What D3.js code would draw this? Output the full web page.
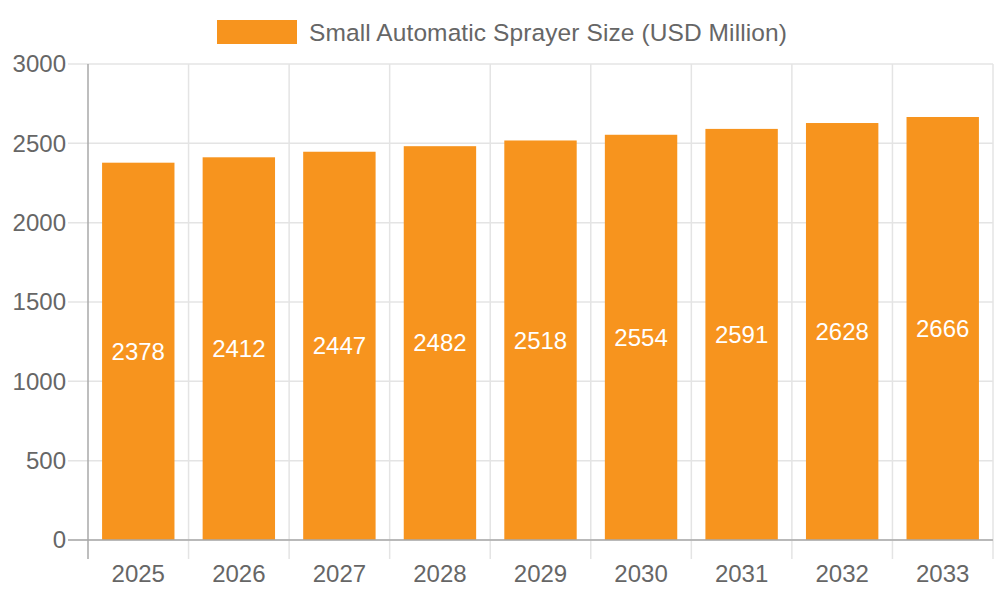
<!DOCTYPE html>
<html>
<head>
<meta charset="utf-8">
<script src="https://cdn.jsdelivr.net/npm/d3@7"></script>
<style>
  body { margin: 0; background: #fff; }
  text { font-family: "Liberation Sans", Arial, sans-serif; }
</style>
</head>
<body>
<div id="chart"></div>
<script>
// chart data
const years = ["2025", "2026", "2027", "2028", "2029", "2030", "2031", "2032", "2033"];
const sizes = [2378, 2412, 2447, 2482, 2518, 2554, 2591, 2628, 2666];
const yTicks = [0, 500, 1000, 1500, 2000, 2500, 3000];
const seriesName = "Small Automatic Sprayer Size (USD Million)";

const width = 1000, height = 600;
const margin = {top: 64, right: 7, bottom: 60, left: 88};
const fontSize = "24px";

let svg = d3.select("#chart")
    .append("svg")
    .attr("width", width)
    .attr("height", height);

let x = d3.scaleBand()
    .domain(years)
    .range([margin.left, width - margin.right])
    .paddingInner(0)
    .paddingOuter(0);

let y = d3.scaleLinear()
    .domain([0, 3000])
    .range([height - margin.bottom, margin.top]);

const gridColor = "#e4e4e4";
const axisColor = "#a9a9a9";

// horizontal grid + y tick marks
svg.append("g")
    .selectAll("line")
    .data(yTicks)
    .enter()
    .append("line")
    .attr("x1", margin.left - 20)
    .attr("x2", width - margin.right)
    .attr("y1", d => y(d))
    .attr("y2", d => y(d))
    .attr("stroke", gridColor)
    .attr("stroke-width", 1.5);

// vertical grid at category boundaries (extends down as tick marks)
let bounds = years.map(d => x(d)).concat([x(years[years.length - 1]) + x.bandwidth()]);
svg.append("g")
    .selectAll("line")
    .data(bounds.slice(1))
    .enter()
    .append("line")
    .attr("x1", d => d)
    .attr("x2", d => d)
    .attr("y1", margin.top)
    .attr("y2", height - margin.bottom + 19)
    .attr("stroke", gridColor)
    .attr("stroke-width", 1.5);

// bars
let barW = x.bandwidth() * 0.72;
svg.append("g")
    .selectAll("rect")
    .data(sizes)
    .enter()
    .append("rect")
    .attr("x", (d, i) => x(years[i]) + (x.bandwidth() - barW) / 2)
    .attr("y", d => y(d))
    .attr("width", barW)
    .attr("height", d => y(0) - y(d))
    .attr("fill", "#f7941e");

// value labels in the middle of each bar
svg.append("g")
    .selectAll("text")
    .data(sizes)
    .enter()
    .append("text")
    .attr("x", (d, i) => x(years[i]) + x.bandwidth() / 2)
    .attr("y", d => (y(d) + y(0)) / 2)
    .attr("dy", "0.35em")
    .style("text-anchor", "middle")
    .style("font-size", fontSize)
    .attr("fill", "#ffffff")
    .text(d => d);

// axes lines
svg.append("line")
    .attr("x1", margin.left).attr("x2", margin.left)
    .attr("y1", margin.top).attr("y2", height - margin.bottom + 19)
    .attr("stroke", axisColor).attr("stroke-width", 1.5);
svg.append("line")
    .attr("x1", margin.left - 20).attr("x2", width - margin.right)
    .attr("y1", y(0)).attr("y2", y(0))
    .attr("stroke", axisColor).attr("stroke-width", 1.5);

// y tick labels
svg.append("g")
    .selectAll("text")
    .data(yTicks)
    .enter()
    .append("text")
    .attr("x", margin.left - 22)
    .attr("y", d => y(d))
    .attr("dy", "0.35em")
    .style("text-anchor", "end")
    .style("font-size", fontSize)
    .attr("fill", "#666")
    .text(d => d);

// x tick labels
svg.append("g")
    .selectAll("text")
    .data(years)
    .enter()
    .append("text")
    .attr("x", d => x(d) + x.bandwidth() / 2)
    .attr("y", height - margin.bottom + 34)
    .attr("dy", "0.35em")
    .style("text-anchor", "middle")
    .style("font-size", fontSize)
    .attr("fill", "#666")
    .text(d => d);

// legend
svg.append("rect")
    .attr("x", 217).attr("y", 20)
    .attr("width", 80).attr("height", 24)
    .attr("fill", "#f7941e");
svg.append("text")
    .attr("x", 309).attr("y", 32)
    .attr("dy", "0.35em")
    .style("font-size", "24.5px")
    .style("letter-spacing", "0.1px")
    .attr("fill", "#666")
    .text(seriesName);
</script>
</body>
</html>
